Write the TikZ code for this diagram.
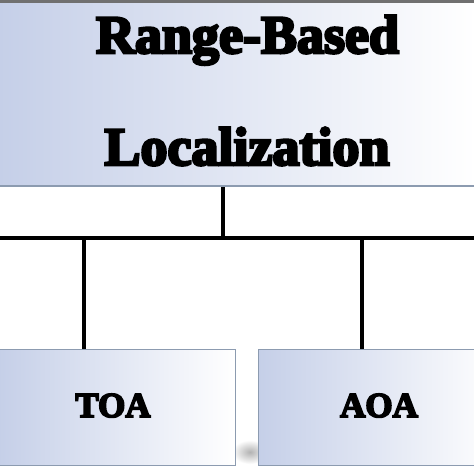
\documentclass[tikz,border=0pt]{standalone}
\usepackage{fontspec}
\newfontfamily\heavyserif[FakeBold=5]{Liberation Serif Bold}
\definecolor{boxblue}{HTML}{C5CFE8}
\definecolor{boxline}{HTML}{8C9BB0}
\definecolor{topstrip}{HTML}{707070}
\begin{document}
\begin{tikzpicture}[x=1pt,y=-1pt,
  blockbox/.style={draw=boxline, line width=1pt, left color=boxblue, right color=white},
  conn/.style={line width=3.4pt, black},
  bigtext/.style={font=\heavyserif\fontsize{54}{54}\selectfont, anchor=base, inner sep=0pt},
  smalltext/.style={font=\heavyserif\fontsize{35}{35}\selectfont, anchor=base, inner sep=0pt}]
\useasboundingbox (0,0) rectangle (474,474);
\fill[white] (0,0) rectangle (474,474);
\begin{scope}
\clip (0,0) rectangle (474,474);
% top box
\shade[left color=boxblue, right color=white] (-2,2) rectangle (476,186);
\draw[boxline, line width=1.2pt] (-2,186) -- (476,186);
\fill[topstrip] (0,0) rectangle (474,2.5);
% shadow between lower boxes
\shade[inner color=black!30, outer color=white] (250,452) ellipse (18 and 12);
% lower boxes
\path[blockbox] (-2,349) rectangle (235,465);
\path[blockbox] (258,349) rectangle (500,465);
\end{scope}
\coordinate (top) at (223,187);
\coordinate (bus) at (223,238);
\coordinate (busL) at (0,238);
\coordinate (busR) at (474,238);
\coordinate (tL) at (84,238);
\coordinate (tR) at (362,238);
\coordinate (eL) at (84,349);
\coordinate (eR) at (362,349);
\draw[conn] (top) -- (bus);
\draw[conn] (busL) -- (busR);
\draw[conn] (tL) -- (eL);
\draw[conn] (tR) -- (eR);
\node[bigtext] (l1) at (247.5,53) {Range-Based};
\node[bigtext] (l2) at (247,165) {Localization};
\node[smalltext] (toa) at (113,417) {TOA};
\node[smalltext] (aoa) at (379,417) {AOA};
\end{tikzpicture}
\end{document}
